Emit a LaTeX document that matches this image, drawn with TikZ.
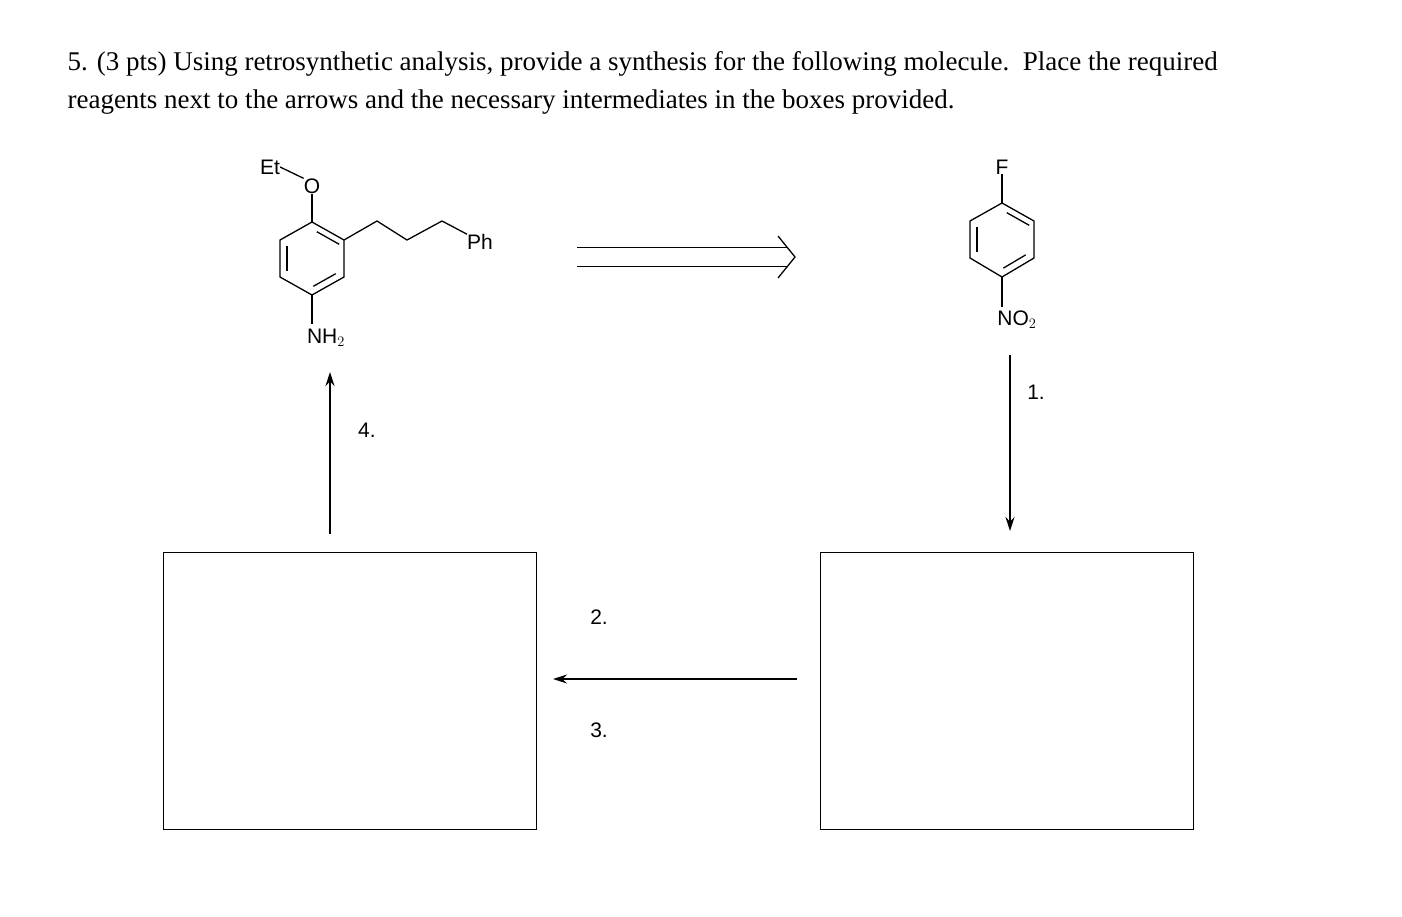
\documentclass[tikz,border=0pt]{standalone}
\usepackage{fontspec}
\setmainfont{Liberation Serif}
\newfontfamily\chemfont{Liberation Sans}
\usetikzlibrary{arrows.meta,calc}

\begin{document}
\begin{tikzpicture}[
  x=1pt, y=-1pt,
  bond/.style={line width=1.3pt},
  atom/.style={font=\chemfont\fontsize{21}{21}\selectfont, inner sep=0pt},
  numlabel/.style={font=\chemfont\fontsize{21}{21}\selectfont},
  rxn/.style={line width=1.3pt, -{Stealth[length=14pt, width=9pt]}},
  answerbox/.style={draw, line width=1pt}
]
\useasboundingbox (0,0) rectangle (1402,916);

\node [anchor=west, font=\fontsize{27}{27}\selectfont] (q1) at (64,64) {5. (3 pts) Using retrosynthetic analysis, provide a synthesis for the following molecule.\ \ Place the required};
\node [anchor=west, font=\fontsize{27}{27}\selectfont] (q2) at (64,102) {reagents next to the arrows and the necessary intermediates in the boxes provided.};

% target molecule
\coordinate (a1) at (312,222);
\coordinate (a2) at (344,240);
\coordinate (a3) at (344,277);
\coordinate (a4) at (312,295);
\coordinate (a5) at (280,277);
\coordinate (a6) at (280,240);
\draw [bond] (a1) -- (a2) -- (a3) -- (a4) -- (a5) -- (a6) -- cycle;
\draw [bond] ($(a1)!0.15!(a2)+(0,7)$) -- ($(a1)!0.85!(a2)+(0,7)$);
\draw [bond] (287,246) -- (287,271);
\draw [bond] ($(a3)!0.15!(a4)+(-3.5,-6)$) -- ($(a3)!0.85!(a4)+(-3.5,-6)$);
\node [atom] (o) at (312,186) {O};
\node [atom] (et) at (270,167) {Et};
\draw [bond] (a1) -- (o.south);
\draw [bond] (et.east) -- (o.north west);
\node [atom] (ph) at (480,242) {Ph};
\draw [bond] (a2) -- (377,221) -- (407,240) -- (442,221) -- (ph.north west);
\node [atom] (nh2) at (326,338) {NH$_2$};
\draw [bond] (a4) -- (312,324);

% starting material
\coordinate (b1) at (1002,203);
\coordinate (b2) at (1034,221);
\coordinate (b3) at (1034,258);
\coordinate (b4) at (1002,277);
\coordinate (b5) at (970,258);
\coordinate (b6) at (970,221);
\draw [bond] (b1) -- (b2) -- (b3) -- (b4) -- (b5) -- (b6) -- cycle;
\draw [bond] ($(b1)!0.15!(b2)+(0,7)$) -- ($(b1)!0.85!(b2)+(0,7)$);
\draw [bond] (977,227) -- (977,252);
\draw [bond] ($(b3)!0.15!(b4)+(-3.5,-6)$) -- ($(b3)!0.85!(b4)+(-3.5,-6)$);
\node [atom] (f) at (1002,167) {F};
\draw [bond] (b1) -- (f.south);
\node [atom] (no2) at (1017,320) {NO$_2$};
\draw [bond] (b4) -- (1002,307);

% retrosynthesis arrow
\coordinate (r0) at (577,257);
\coordinate (r1) at (795,257);
\draw [bond] (577,247.5) -- (788,247.5);
\draw [bond] (577,266.5) -- (788,266.5);
\draw [bond, line join=miter] (778,236) -- (r1) -- (778,278);

% boxes
\draw [answerbox] (163,552) rectangle (536,829) node [pos=0.5] (boxA) {};
\draw [answerbox] (820,552) rectangle (1193,829) node [pos=0.5] (boxB) {};

% forward arrows
\coordinate (s1) at (1010,355);
\coordinate (e1) at (1010,531);
\draw [rxn] (s1) -- (e1);
\node [numlabel] (n1) at (1036,392) {1.};
\coordinate (s23) at (797,679);
\coordinate (e23) at (553,679);
\draw [rxn] (s23) -- (e23);
\node [numlabel] (n2) at (599,617) {2.};
\node [numlabel] (n3) at (599,730) {3.};
\coordinate (s4) at (330,534);
\coordinate (e4) at (330,372);
\draw [rxn] (s4) -- (e4);
\node [numlabel] (n4) at (367,430) {4.};
\end{tikzpicture}
\end{document}
